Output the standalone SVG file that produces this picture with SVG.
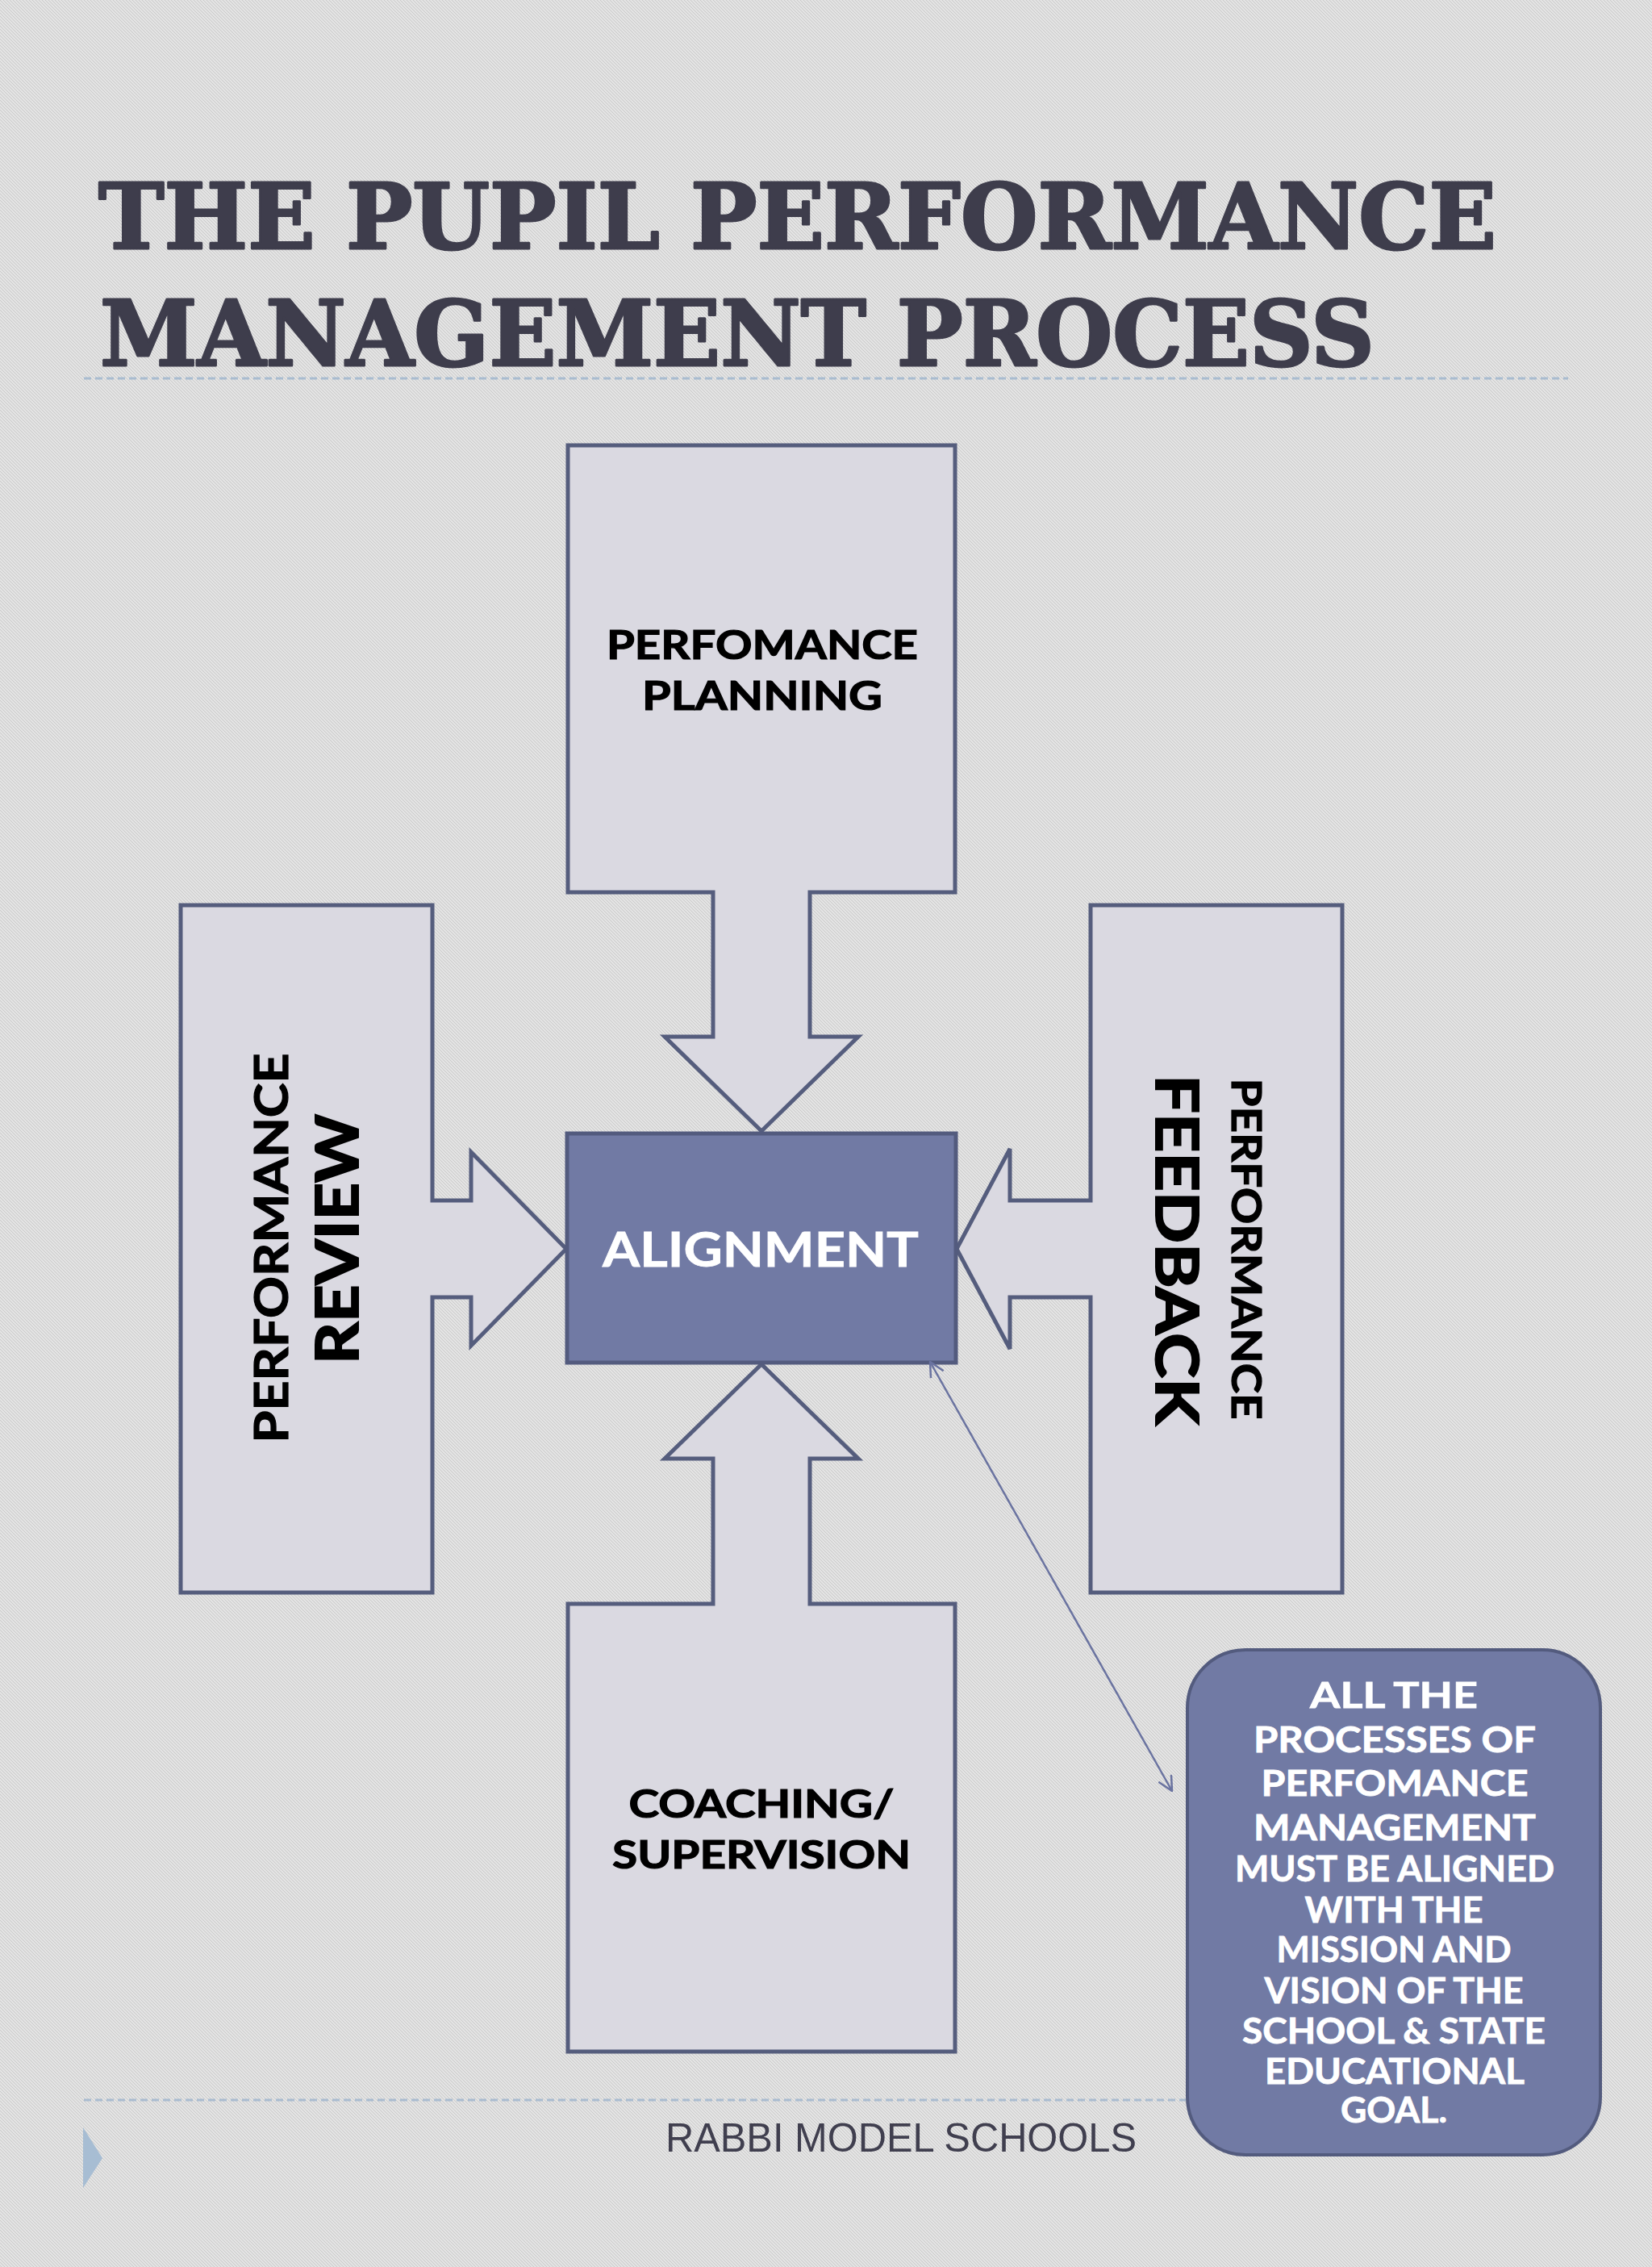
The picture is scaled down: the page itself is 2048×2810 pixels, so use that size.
<svg xmlns="http://www.w3.org/2000/svg" width="2048" height="2810" viewBox="0 0 2048 2810">
<defs>
<pattern id="bg" width="4" height="4" patternUnits="userSpaceOnUse">
<rect width="4" height="4" fill="#e3e3e3"/>
<path d="M-1,-1 L5,5 M-1,3 L1,5 M3,-1 L5,1" stroke="#c9c9c9" stroke-width="1"/>
</pattern>
<marker id="open" viewBox="0 0 20 20" refX="19" refY="10" markerWidth="20" markerHeight="20" markerUnits="userSpaceOnUse" orient="auto-start-reverse">
<path d="M1,1 L19,10 L1,19" fill="none" stroke="#6a73a0" stroke-width="2.5"/>
</marker>
<style>
.shape{fill:#dad9e1;stroke:#555d7d;stroke-width:5;stroke-linejoin:miter}
.lbl{font-family:Lato,"Open Sans","Liberation Sans",sans-serif;font-weight:bold;fill:#000;stroke:#000;stroke-width:1.2;text-anchor:middle}
.wlbl{font-family:Lato,"Open Sans","Liberation Sans",sans-serif;font-weight:bold;fill:#ffffff;stroke:#ffffff;stroke-width:0.8;text-anchor:middle}
.title{font-family:"DejaVu Serif","Liberation Serif",serif;font-weight:bold;fill:#3e3d4c;stroke:#3e3d4c;stroke-width:3;stroke-linejoin:round}
.rule{stroke:#a9bcd0;stroke-width:3;stroke-dasharray:9 5;fill:none}
</style>
</defs>
<rect width="2048" height="2810" fill="url(#bg)"/>

<g id="title">
<text class="title" x="122" y="308" font-size="112" textLength="1733" lengthAdjust="spacingAndGlyphs">THE PUPIL PERFORMANCE</text>
<text class="title" x="124" y="453" font-size="112" textLength="1580" lengthAdjust="spacingAndGlyphs">MANAGEMENT PROCESS</text>
</g>
<line class="rule" x1="104" y1="469" x2="1944" y2="469"/>

<g id="planning">
<path class="shape" d="M704,552 H1184 V1106 H1004 V1285 H1064 L944,1402 L824,1285 H884 V1106 H704 Z"/>
<text class="lbl" x="945" y="817" font-size="50" textLength="386" lengthAdjust="spacingAndGlyphs">PERFOMANCE</text>
<text class="lbl" x="945" y="880" font-size="50" textLength="298" lengthAdjust="spacingAndGlyphs">PLANNING</text>
</g>

<g id="coaching">
<path class="shape" d="M704,2543 H1184 V1988 H1004 V1808 H1064 L944,1691 L824,1808 H884 V1988 H704 Z"/>
<text class="lbl" x="944" y="2253" font-size="48" textLength="329" lengthAdjust="spacingAndGlyphs">COACHING/</text>
<text class="lbl" x="944" y="2316" font-size="48" textLength="370" lengthAdjust="spacingAndGlyphs">SUPERVISION</text>
</g>

<g id="review">
<path class="shape" d="M224,1122 H536 V1488 H584 V1428 L702,1548 L584,1668 V1608 H536 V1974 H224 Z"/>
<text class="lbl" transform="translate(357,1547) rotate(-90)" x="0" y="0" font-size="57" textLength="483" lengthAdjust="spacingAndGlyphs">PERFORMANCE</text>
<text class="lbl" transform="translate(444,1536) rotate(-90)" x="0" y="0" font-size="72" textLength="310" lengthAdjust="spacingAndGlyphs" style="stroke-width:2">REVIEW</text>
</g>

<g id="feedback">
<path class="shape" d="M1664,1122 H1352 V1488 H1252 V1424 L1186,1548 L1252,1672 V1608 H1352 V1974 H1664 Z"/>
<text class="lbl" transform="translate(1433,1549) rotate(90)" x="0" y="0" font-size="73" textLength="434" lengthAdjust="spacingAndGlyphs" style="stroke-width:2">FEEDBACK</text>
<text class="lbl" transform="translate(1527,1548) rotate(90)" x="0" y="0" font-size="51" textLength="423" lengthAdjust="spacingAndGlyphs">PERFORMANCE</text>
</g>

<g id="alignment">
<rect x="703" y="1405" width="482" height="284" fill="#717aa4" stroke="#535b7e" stroke-width="5"/>
<text class="wlbl" x="943" y="1570" font-size="60" textLength="392" lengthAdjust="spacingAndGlyphs">ALIGNMENT</text>
</g>

<g id="connectors">
<line x1="1153" y1="1688" x2="1453" y2="2220" stroke="#6a73a0" stroke-width="2.5" marker-start="url(#open)" marker-end="url(#open)"/>
</g>

<g id="callout">
<rect x="1472" y="2045" width="512" height="626" rx="72" ry="72" fill="#717aa4" stroke="#535b7e" stroke-width="4"/>
<text class="wlbl" x="1728" y="2117" font-size="44" textLength="208" lengthAdjust="spacingAndGlyphs">ALL  THE</text>
<text class="wlbl" x="1729" y="2172" font-size="44" textLength="350" lengthAdjust="spacingAndGlyphs">PROCESSES OF</text>
<text class="wlbl" x="1729" y="2226" font-size="44" textLength="331" lengthAdjust="spacingAndGlyphs">PERFOMANCE</text>
<text class="wlbl" x="1729" y="2281" font-size="44" textLength="350" lengthAdjust="spacingAndGlyphs">MANAGEMENT</text>
<text class="wlbl" x="1729" y="2332" font-size="44" textLength="396" lengthAdjust="spacingAndGlyphs">MUST BE ALIGNED</text>
<text class="wlbl" x="1728" y="2383" font-size="44" textLength="221" lengthAdjust="spacingAndGlyphs">WITH THE</text>
<text class="wlbl" x="1728" y="2432" font-size="44" textLength="291" lengthAdjust="spacingAndGlyphs">MISSION AND</text>
<text class="wlbl" x="1728" y="2483" font-size="44" textLength="321" lengthAdjust="spacingAndGlyphs">VISION OF THE</text>
<text class="wlbl" x="1728" y="2533" font-size="44" textLength="376" lengthAdjust="spacingAndGlyphs">SCHOOL &amp; STATE</text>
<text class="wlbl" x="1729" y="2583" font-size="44" textLength="322" lengthAdjust="spacingAndGlyphs">EDUCATIONAL</text>
<text class="wlbl" x="1728" y="2631" font-size="44" textLength="132" lengthAdjust="spacingAndGlyphs">GOAL.</text>
</g>

<g id="footer">
<line class="rule" x1="104" y1="2603" x2="1470" y2="2603"/>
<text x="825" y="2667" font-family="'Liberation Sans',sans-serif" font-size="50" fill="#403f4f" textLength="584" lengthAdjust="spacingAndGlyphs">RABBI MODEL SCHOOLS</text>
<path d="M103,2637 L127,2675 L103,2712 Z" fill="#a7bdd3"/>
</g>
</svg>
